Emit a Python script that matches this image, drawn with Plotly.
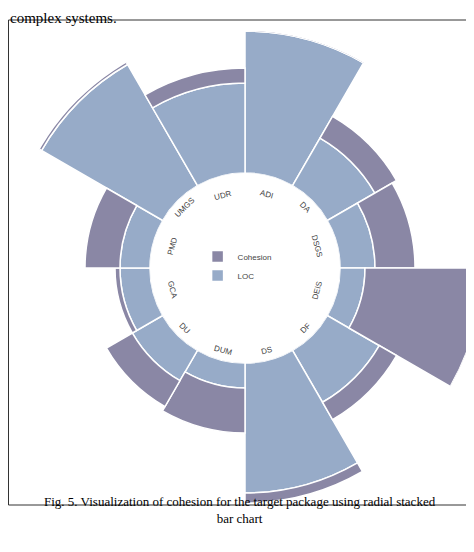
import plotly.graph_objects as go
import math

categories = ["ADI", "DA", "DSGS", "DEIS", "DF", "DS", "DUM", "DU", "GCA", "PMD", "UMGS", "UDR"]
loc = [142, 55, 35, 25, 60, 130, 25, 35, 30, 30, 140, 90]
cohesion = [2, 25, 40, 117, 20, 10, 45, 30, 5, 35, 4, 15]

W, H = 474, 552
cx, cy, R, hole_px = 237, 260, 237, 95

fig = go.Figure()
fig.add_trace(go.Barpolar(r=loc, theta=categories, name="LOC",
                          marker=dict(color="#97abc8", line=dict(color="white", width=1.5))))
fig.add_trace(go.Barpolar(r=cohesion, theta=categories, name="Cohesion",
                          marker=dict(color="#8a87a5", line=dict(color="white", width=1.5))))

yc = 1 - cy / H
fig.update_layout(
    width=W, height=H, margin=dict(l=0, r=0, t=0, b=0),
    paper_bgcolor="white", plot_bgcolor="white",
    polar=dict(
        domain=dict(x=[0, 1], y=[yc - R / H, yc + R / H]),
        hole=hole_px / R, bgcolor="white", barmode="stack", bargap=0,
        radialaxis=dict(visible=False, range=[0, 142]),
        angularaxis=dict(rotation=75, direction="clockwise", showticklabels=False,
                         showgrid=False, showline=False, ticks=""),
    ),
    legend=dict(x=0.40, y=1 - 258 / H, xanchor="left", yanchor="middle", traceorder="reversed",
                font=dict(family="Liberation Sans", size=8, color="#444"), bgcolor="rgba(0,0,0,0)"),
    font=dict(family="Liberation Serif"),
)

rl = hole_px - 10
for i, c in enumerate(categories):
    deg = 15 + 30 * i
    a = math.radians(deg)
    x = cx + rl * math.sin(a)
    y = cy - rl * math.cos(a)
    ang = deg - 180 if 90 < deg < 270 else deg
    fig.add_annotation(x=x / W, y=1 - y / H, xref="paper", yref="paper", text=c,
                       showarrow=False, textangle=ang,
                       font=dict(family="Liberation Sans", size=8, color="#444"))

fig.add_shape(type="rect", xref="paper", yref="paper", x0=0.5 / W, x1=462 / W,
              y0=1 - 497 / H, y1=1 - 12 / H, line=dict(color="#333", width=1))
fig.add_annotation(x=0, y=1, xref="paper", yref="paper", xanchor="left", yanchor="top",
                   text="complex systems.", showarrow=False,
                   font=dict(family="Liberation Serif", size=15, color="black"))
fig.add_annotation(x=0.49, y=1 - 520 / H, xref="paper", yref="paper",
                   text="Fig. 5. Visualization of cohesion for the target package using radial stacked<br>bar chart",
                   showarrow=False, font=dict(family="Liberation Serif", size=13, color="black"))

fig.write_html("out.html")
